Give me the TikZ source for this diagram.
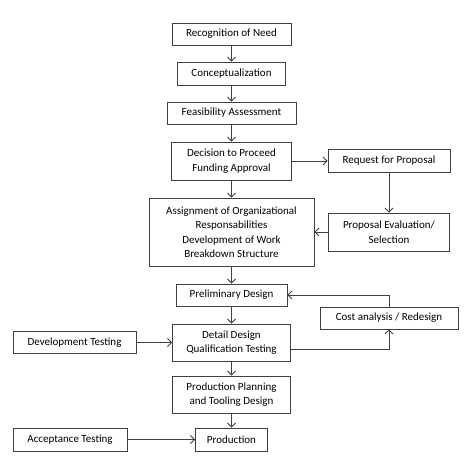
\documentclass[tikz,border=0pt]{standalone}
\usepackage{fontspec}
\setmainfont{Carlito}
\usetikzlibrary{arrows.meta}
\definecolor{edge}{HTML}{404040}
\begin{document}
\begin{tikzpicture}[x=1pt,y=-1pt,
  box/.style={draw=edge,line width=0.9pt,rectangle,inner sep=0pt,align=center,
    font=\fontsize{11}{14.5}\selectfont,text=black},
  arr/.style={draw=edge,line width=0.8pt,-{Straight Barb[length=4pt,width=8pt,line width=0.8pt]}}]
\useasboundingbox (0,0) rectangle (474,474);
\node[box,minimum width=119pt,minimum height=22pt] (rec) at (231.5,34) {Recognition of Need};
\node[box,minimum width=108pt,minimum height=23pt] (con) at (231.5,73.5) {Conceptualization};
\node[box,minimum width=129pt,minimum height=22pt] (fea) at (231.5,113) {Feasibility Assessment};
\node[box,minimum width=120pt,minimum height=38pt] (dec) at (231.5,161) {Decision to Proceed\\Funding Approval};
\node[box,minimum width=122pt,minimum height=23pt] (rfp) at (389,161) {Request for Proposal};
\node[box,minimum width=165pt,minimum height=68pt] (asg) at (231.5,232) {Assignment of Organizational\\Responsabilities\\Development of Work\\Breakdown Structure};
\node[box,minimum width=121pt,minimum height=38pt] (pev) at (389,232) {Proposal Evaluation/\\Selection};
\node[box,minimum width=111pt,minimum height=22pt] (pre) at (231.5,295) {Preliminary Design};
\node[box,minimum width=138pt,minimum height=22pt] (cost) at (389,318) {Cost analysis / Redesign};
\node[box,minimum width=118pt,minimum height=37pt] (det) at (231.5,342.5) {Detail Design\\Qualification Testing};
\node[box,minimum width=123pt,minimum height=22pt] (dev) at (74.5,342.5) {Development Testing};
\node[box,minimum width=118pt,minimum height=37pt] (ppl) at (231.5,394.5) {Production Planning\\and Tooling Design};
\node[box,minimum width=114pt,minimum height=23pt] (acc) at (70,439.5) {Acceptance Testing};
\node[box,minimum width=72pt,minimum height=23pt] (prod) at (231.5,439.5) {Production};
\draw[arr] (rec) -- (con);
\draw[arr] (con) -- (fea);
\draw[arr] (fea) -- (dec);
\draw[arr] (dec) -- (asg);
\draw[arr] (asg) -- (pre);
\draw[arr] (pre) -- (det);
\draw[arr] (det) -- (ppl);
\draw[arr] (ppl) -- (prod);
\draw[arr] (dec.east) -- (dec.east -| rfp.west);
\draw[arr] (rfp) -- (pev);
\draw[arr] (pev.west) -- (pev.west -| asg.east);
\draw[arr] (cost.north) |- (pre.east);
\draw[arr] ([yshift=-6.5pt]det.east) -| (cost.south);
\draw[arr] (dev.east) -- (dev.east -| det.west);
\draw[arr] (acc.east) -- (acc.east -| prod.west);
\end{tikzpicture}
\end{document}
